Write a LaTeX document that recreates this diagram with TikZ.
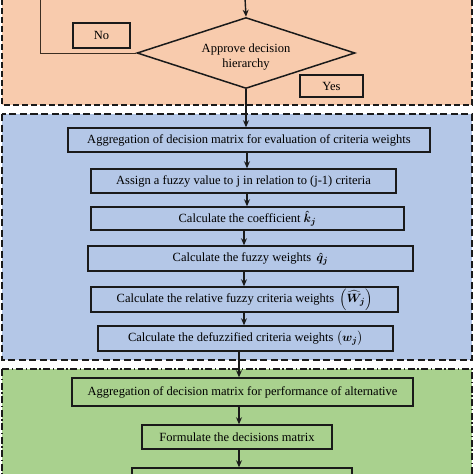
\documentclass[tikz,border=0pt]{standalone}
\usepackage{fontspec}
\usepackage{amsmath}
\setmainfont{Liberation Serif}
\usetikzlibrary{shapes.geometric,arrows.meta}
\definecolor{orangebg}{HTML}{F8CBAD}
\definecolor{bluebg}{HTML}{B4C7E7}
\definecolor{greenbg}{HTML}{A9D18E}
\definecolor{lineclr}{HTML}{1A1A1A}
\tikzset{
  region/.style={line width=1.8pt, draw=lineclr},
  stepbox/.style={draw=lineclr, line width=1.5pt, rectangle, inner sep=0pt, align=center, font=\fontsize{12.5}{14}\selectfont},
  decision/.style={draw=lineclr, line width=1.5pt, diamond, shape aspect=3, inner sep=0pt},
  labeltext/.style={inner sep=0pt, align=center, font=\fontsize{12.5}{14.5}\selectfont},
  arr/.style={draw=lineclr, line width=1.4pt, -{Stealth[length=7pt,width=6pt]}},
  plain/.style={draw=lineclr!80!brown, line width=1pt},
}
\begin{document}
\begin{tikzpicture}[x=1pt,y=-1pt]
\useasboundingbox (0,0) rectangle (474,474);
\clip (0,0) rectangle (474,474);
\fill[white] (0,0) rectangle (474,474);
% regions
\filldraw[region, fill=orangebg, dash pattern=on 6pt off 3pt] (2,-10) rectangle (472,105);
\filldraw[region, fill=bluebg, dash pattern=on 7pt off 3.5pt] (2,114) rectangle (472,360);
\filldraw[region, fill=greenbg, dash pattern=on 7pt off 2.5pt on 1.5pt off 2.5pt] (2,369) rectangle (472,490);

% top stage
\coordinate (intop) at (245,-2);
\node[decision, minimum width=218pt, minimum height=71pt] (dia) at (246,53) {};
\node[labeltext] (diatext) at ([yshift=-4pt]dia.center) {Approve decision\\hierarchy};
\node[stepbox, minimum width=57pt, minimum height=25pt] (no) at (101.5,35.5) {No};
\node[stepbox, minimum width=63pt, minimum height=22pt] (yes) at (331.5,86) {Yes};
\coordinate (loopc) at (40,53);
\coordinate (looptop) at (40,-2);
\draw[arr] (intop) -- (dia.north);
\draw[plain] (dia.west) -- (loopc) -- (looptop);

% blue stage
\node[stepbox, minimum width=362pt, minimum height=24pt] (agg1) at (249,140) {Aggregation of decision matrix for evaluation of criteria weights};
\node[stepbox, minimum width=305pt, minimum height=24pt] (assign) at (243.5,181) {Assign a fuzzy value to j in relation to (j-1) criteria};
\node[stepbox, minimum width=313pt, minimum height=23pt] (coef) at (247.5,218.5) {Calculate the coefficient $\boldsymbol{\hat{k}_j}$};
\node[stepbox, minimum width=325pt, minimum height=25pt] (fuzzy) at (250.5,258.5) {Calculate the fuzzy weights \,$\boldsymbol{\hat{q}_j}$};
\node[stepbox, minimum width=307pt, minimum height=25pt] (rel) at (244.5,299.5) {Calculate the relative fuzzy criteria weights \,$\left(\boldsymbol{\widehat{W}_j}\right)$};
\node[stepbox, minimum width=295pt, minimum height=25pt] (defz) at (245.5,338.5) {Calculate the defuzzified criteria weights $\left(\boldsymbol{w_j}\right)$};

% green stage
\node[stepbox, minimum width=341pt, minimum height=28pt] (agg2) at (242.5,392) {Aggregation of decision matrix for performance of alternative};
\node[stepbox, minimum width=190pt, minimum height=24pt] (form) at (237,437) {Formulate the decisions matrix};
\node[stepbox, minimum width=220pt, minimum height=26pt] (next) at (242,481) {};

% spines
\coordinate (s1) at (247,0);
\coordinate (s2) at (244,0);
\coordinate (s3) at (239,0);
\draw[arr] (dia.south) -- (agg1.north -| dia.south);
\draw[arr] (agg1.south -| s1) -- (assign.north -| s1);
\draw[arr] (assign.south -| s1) -- (coef.north -| s1);
\draw[arr] (coef.south -| s2) -- (fuzzy.north -| s2);
\draw[arr] (fuzzy.south -| s2) -- (rel.north -| s2);
\draw[arr] (rel.south -| s2) -- (defz.north -| s2);
\draw[arr] (defz.south -| s3) -- (agg2.north -| s3);
\draw[arr] (agg2.south -| s3) -- (form.north -| s3);
\draw[arr] (form.south -| s3) -- (next.north -| s3);
\end{tikzpicture}
\end{document}
